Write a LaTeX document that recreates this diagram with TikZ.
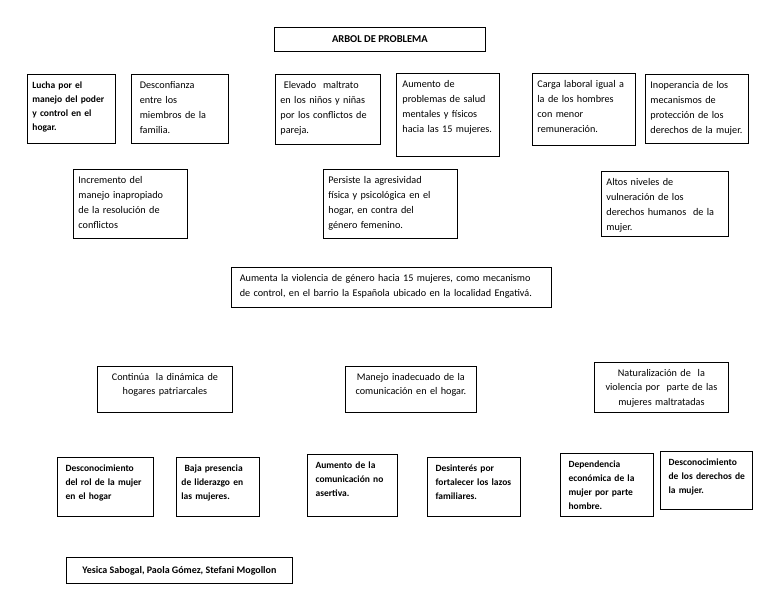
\documentclass[tikz,border=0pt]{standalone}
\usepackage{fontspec}
\setmainfont{Carlito}
\hyphenpenalty=10000
\begin{document}
\begin{tikzpicture}[x=1pt,y=-1pt,
  boks/.style={draw,line width=0.8pt,anchor=north west,align=left,inner xsep=5pt,inner ysep=5pt,text height=9pt,font=\fontsize{10.2}{15}\selectfont},
  fet/.style={boks,font=\fontsize{9.5}{14}\selectfont\bfseries},
  midt/.style={boks,align=center,font=\fontsize{10.2}{14.5}\selectfont},
  ramme/.style={draw,line width=0.8pt,anchor=north west,align=center,inner sep=0pt,font=\fontsize{10.5}{12}\selectfont\bfseries}]
\useasboundingbox (0,0) rectangle (768,594);
% tegn tittel
\node[ramme,minimum width=211pt,minimum height=24pt] (tittel) at (274,27) {ARBOL DE PROBLEMA};
% tegn virkninger
\node[fet,text width=78pt,text depth=50pt] (lucha) at (27,74) {Lucha por el\\manejo del poder\\y control en el\\hogar.};
\node[boks,text width=87pt,text depth=50pt] (desconfianza) at (131,74) {\ Desconfianza\\\ entre los\\\ miembros de la\\\ familia.};
\node[boks,text width=95pt,text depth=51pt] (maltrato) at (275,74) {\ Elevado\ \ maltrato\\en los niños y niñas\\por los conflictos de\\pareja.};
\node[boks,inner xsep=6pt,text width=91pt,text depth=64pt] (salud) at (396,73) {Aumento de\\problemas de salud\\mentales y físicos\\\mbox{hacia las 15 mujeres.}};
\node[boks,text width=93pt,text depth=53pt] (carga) at (532,73) {Carga laboral igual a\\la de los hombres\\con menor\\remuneración.};
\node[boks,text width=93pt,text depth=50pt] (inoperancia) at (645,74) {Inoperancia de los\\mecanismos de\\protección de los\\derechos de la mujer.};
\node[boks,text width=104pt,text depth=50pt] (incremento) at (73,169) {Incremento del\\manejo inapropiado\\de la resolución de\\conflictos};
\node[boks,text width=124pt,text depth=50pt] (persiste) at (323,169) {Persiste la agresividad\\física y psicológica en el\\hogar, en contra del\\género femenino.};
\node[boks,text width=117pt,text depth=46pt] (altos) at (601,171) {Altos niveles de\\vulneración de los\\derechos humanos\ \ de la\\mujer.};
% tegn hovedproblem
\node[boks,text width=310pt,text depth=21pt] (problema) at (231,267) {\ Aumenta la violencia de género hacia 15 mujeres, como mecanismo\\\ de control, en el barrio la Española ubicado en la localidad Engativá.};
% tegn årsaker
\node[midt,text width=125pt,text depth=27pt] (continua) at (97,366) {Continúa\ \ la dinámica de\\hogares patriarcales};
\node[midt,text width=121pt,text depth=27pt] (manejo) at (345,366) {Manejo inadecuado de la\\comunicación en el hogar.};
\node[midt,text width=124pt,text depth=31pt] (naturalizacion) at (594,362) {Naturalización de\ \ la\\violencia por\ \ parte de las\\mujeres maltratadas};
\node[fet,text width=86pt,text depth=40pt] (rol) at (57,457) {\ Desconocimiento\\\ del rol de la mujer\\\ en el hogar};
\node[fet,text width=73pt,text depth=40pt] (liderazgo) at (176,457) {\ Baja presencia\\de liderazgo\ en\\las mujeres.};
\node[fet,text width=80pt,text depth=43pt] (asertiva) at (307,454) {\ Aumento de la\\\ comunicación no\\\ asertiva.};
\node[fet,text width=83pt,text depth=40pt] (desinteres) at (427,457) {\ Desinterés por\\\ fortalecer los lazos\\\ familiares.};
\node[fet,text width=83pt,text depth=44pt] (dependencia) at (560,453) {\ Dependencia\\\ económica de la\\\ mujer por parte\\\ hombre.};
\node[fet,text width=82pt,text depth=39pt] (derechos) at (660,451) {\ Desconocimiento\\\ de los derechos de\\\ la mujer.};
% tegn forfattere
\node[ramme,minimum width=226pt,minimum height=26pt,font=\fontsize{10}{12}\selectfont\bfseries] (autores) at (66,557) {Yesica Sabogal, Paola Gómez, Stefani Mogollon};
\end{tikzpicture}
\end{document}
